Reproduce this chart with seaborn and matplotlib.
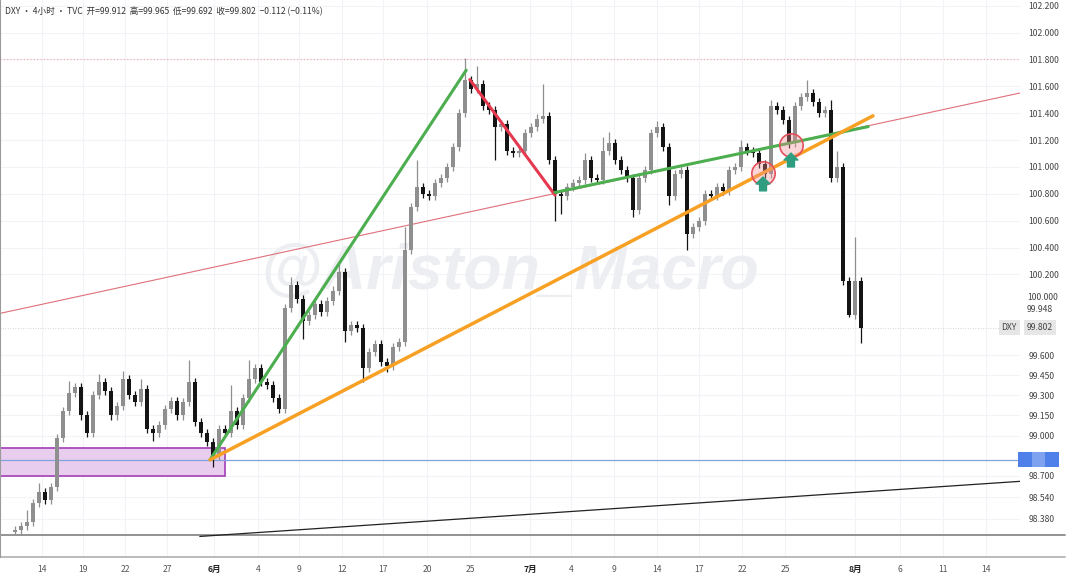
import numpy as np
import pandas as pd
import matplotlib
matplotlib.use("Agg")
import matplotlib.pyplot as plt
import matplotlib.transforms as mtransforms
from matplotlib.patches import Rectangle
import seaborn as sns

# DXY 4小时 K线
first_open = 98.28
closes = [
    98.30, 98.33, 98.36, 98.50, 98.58, 98.52, 98.62, 98.98, 99.18, 99.32,
    99.36, 99.15, 99.02, 99.30, 99.40, 99.33, 99.15, 99.22, 99.42, 99.30,
    99.25, 99.35, 99.05, 99.02, 99.08, 99.20, 99.26, 99.15, 99.25, 99.40,
    99.10, 99.02, 98.95, 98.85, 99.05, 99.02, 99.18, 99.08, 99.28, 99.42,
    99.50, 99.40, 99.38, 99.28, 99.20, 99.95, 100.12, 100.02, 99.85, 99.90,
    99.98, 99.92, 100.00, 100.08, 100.22, 99.78, 99.82, 99.80, 99.50, 99.62,
    99.68, 99.55, 99.52, 99.66, 99.70, 100.38, 100.70, 100.85, 100.80, 100.78,
    100.88, 100.92, 101.00, 101.15, 101.40, 101.65, 101.58, 101.62, 101.45, 101.42,
    101.30, 101.32, 101.12, 101.10, 101.12, 101.25, 101.30, 101.36, 101.38, 101.05,
    100.80, 100.78, 100.85, 100.88, 100.90, 101.05, 100.92, 100.90, 101.12, 101.18,
    101.05, 100.98, 100.92, 100.68, 100.92, 100.98, 101.25, 101.30, 101.15, 100.78,
    100.95, 100.98, 100.50, 100.55, 100.60, 100.80, 100.78, 100.85, 100.82, 100.98,
    101.00, 101.15, 101.12, 101.10, 101.02, 100.95, 101.45, 101.42, 101.35, 101.18,
    101.45, 101.52, 101.55, 101.48, 101.40, 101.42, 100.92, 101.00, 100.15, 99.90,
    100.15, 99.80,
]
# 上/下影线长度 (0.01)
wick_up = [
    3, 3, 9, 3, 7, 3, 3, 3, 3, 9,
    3, 3, 3, 3, 6, 3, 3, 3, 6, 3,
    3, 7, 3, 3, 3, 3, 3, 3, 3, 16,
    3, 3, 3, 3, 3, 3, 20, 3, 3, 14,
    3, 3, 3, 3, 3, 3, 6, 3, 3, 3,
    3, 3, 3, 3, 6, 3, 3, 3, 3, 3,
    3, 3, 3, 3, 3, 17, 3, 20, 3, 3,
    3, 3, 3, 3, 3, 16, 3, 13, 3, 3,
    3, 3, 3, 3, 3, 3, 3, 3, 24, 3,
    3, 3, 3, 3, 3, 5, 3, 3, 10, 8,
    3, 3, 3, 3, 3, 3, 3, 4, 3, 3,
    3, 3, 3, 3, 3, 3, 3, 3, 3, 3,
    3, 5, 3, 3, 3, 3, 5, 3, 3, 3,
    3, 3, 10, 3, 3, 3, 8, 12, 3, 3,
    33, 3,
]
wick_dn = [
    2, 3, 3, 3, 3, 3, 3, 3, 3, 3,
    3, 3, 3, 3, 3, 3, 3, 3, 3, 3,
    3, 3, 3, 6, 3, 3, 3, 3, 3, 3,
    3, 3, 3, 8, 3, 3, 3, 3, 3, 3,
    3, 3, 3, 3, 3, 3, 3, 3, 13, 3,
    3, 3, 3, 3, 3, 8, 3, 3, 10, 3,
    3, 3, 5, 3, 3, 3, 3, 3, 3, 3,
    3, 3, 3, 3, 3, 3, 3, 3, 3, 3,
    25, 3, 3, 3, 3, 3, 3, 3, 3, 3,
    20, 13, 3, 3, 3, 3, 3, 3, 3, 3,
    3, 3, 3, 5, 3, 3, 3, 3, 3, 6,
    3, 3, 12, 3, 3, 3, 3, 3, 3, 3,
    3, 3, 3, 3, 3, 3, 3, 3, 3, 4,
    3, 3, 3, 3, 3, 3, 3, 3, 3, 2,
    3, 11,
]

# 时间轴
tick_bars = [4.5, 11.33, 18.33, 25.33, 33.17, 40.5, 47.33, 54.5, 61.33, 68.67, 75.83,
             85.83, 92.67, 99.83, 107, 114, 121.17, 128.33, 140, 147.5, 154.67, 161.83]
tick_names = ['14', '19', '22', '27', '6月', '4', '9', '12', '17', '20', '25',
              '7月', '4', '9', '14', '17', '22', '25', '8月', '6', '11', '14']
price_ticks = [102.2, 102.0, 101.8, 101.6, 101.4, 101.2, 101.0, 100.8, 100.6, 100.4,
               100.2, 99.6, 99.45, 99.3, 99.15, 99.0, 98.7, 98.54, 98.38]

# 画线 (K线序号, 价格)
green_up_x, green_up_y = [32.5, 75.2], [98.82, 101.72]
red_down_x, red_down_y = [75.8, 90.0], [101.65, 100.79]
green_flat_x, green_flat_y = [90.0, 142.2], [100.81, 101.30]
orange_x, orange_y = [32.5, 143.0], [98.82, 101.38]
red_ray_x, red_ray_y = [-2.5, 167.5], [99.91, 101.55]
black_ray_x, black_ray_y = [30.8, 167.5], [98.25, 98.66]
blue_level = 98.82
red_dot_level = 101.8
gray_level = 98.26
box_x, box_w = -2.5, 37.5
box_lo, box_hi = 98.70, 98.91
circle_x = [124.67, 129.33]
circle_y = [100.955, 101.163]
arrow_y = [100.925, 101.103]
last_price = 99.802
prev_label = 99.948

df = pd.DataFrame({'close': closes, 'wick_up': wick_up, 'wick_dn': wick_dn})
df['bar'] = np.arange(len(df))
df['open'] = [first_open] + closes[:-1]
body_lo = df[['open', 'close']].min(axis=1)
body_hi = df[['open', 'close']].max(axis=1)
df['high'] = body_hi + df['wick_up'] / 100
df['low'] = body_lo - df['wick_dn'] / 100
df['up'] = df['close'] >= df['open']

sns.set_theme(style='white')
plt.rcParams['font.family'] = ['Noto Sans CJK SC', 'DejaVu Sans']

fig = plt.figure(figsize=(10.8, 5.83), dpi=100)
ax = fig.add_axes([0, 1 - 557 / 583, 1020 / 1080, 557 / 583])
ax.set_xlim(-2.5, 167.5)
ax.set_ylim(98.097, 102.242)
trans = mtransforms.blended_transform_factory(ax.transAxes, ax.transData)

# 网格
ax.set_axisbelow(True)
ax.grid(True, color='#f1f3f6', lw=0.8)

# 水印 (在K线下面)
ax.text(510 / 1020, (557 - 272) / 557, '@Ariston_Macro', transform=ax.transAxes,
        ha='center', va='center', fontsize=45, fontweight='bold', fontstyle='italic',
        family='Liberation Sans', color='#eceef1', zorder=0.8)

# 区域框
ax.add_patch(Rectangle((box_x, box_lo), box_w, box_hi - box_lo, facecolor='#e9cdef',
                       edgecolor='#a84bbd', lw=1.3, zorder=1))

# 水平线
ax.axhline(red_dot_level, color='#f0a3a8', lw=0.8, ls=(0, (1, 2)), zorder=1)
ax.axhline(blue_level, color='#7fa3db', lw=0.9, zorder=1)
ax.axhline(last_price, color='#c8c8c8', lw=0.6, ls=(0, (1, 2)), zorder=1)
ax.plot([0, 1065 / 1020], [gray_level, gray_level], transform=trans, color='#8a8a8a',
        lw=1.3, clip_on=False, zorder=1)

# 细趋势线
sns.lineplot(x=red_ray_x, y=red_ray_y, ax=ax, color='#e0707a', lw=0.8, sort=False,
             estimator=None, zorder=2)
sns.lineplot(x=black_ray_x, y=black_ray_y, ax=ax, color='#222222', lw=0.9, sort=False,
             estimator=None, zorder=2)

# K线
colors = np.where(df['up'], '#8f8f8f', '#141414')
ax.vlines(df['bar'], df['low'], df['high'], colors=colors, lw=0.9, zorder=3)
ax.bar(df['bar'], (body_hi - body_lo).clip(lower=0.008), bottom=body_lo, width=0.72,
       color=colors, lw=0, zorder=3)

# 粗趋势线
sns.lineplot(x=green_up_x, y=green_up_y, ax=ax, color='#4cae4f', lw=2.2, sort=False,
             estimator=None, zorder=4)
sns.lineplot(x=red_down_x, y=red_down_y, ax=ax, color='#e5394f', lw=2.2, sort=False,
             estimator=None, zorder=4)
sns.lineplot(x=green_flat_x, y=green_flat_y, ax=ax, color='#4cae4f', lw=2.2, sort=False,
             estimator=None, zorder=4)
sns.lineplot(x=orange_x, y=orange_y, ax=ax, color='#f7a023', lw=2.5, sort=False,
             estimator=None, zorder=4)

# 圆圈与箭头
ax.scatter(circle_x, circle_y, s=16.8 ** 2, facecolor=(0.96, 0.55, 0.58, 0.35),
           edgecolor='#e3505c', lw=1.2, zorder=5)
for cx, ay in zip(circle_x, arrow_y):
    ax.annotate('', xy=(cx, ay), xytext=(0, -10), textcoords='offset points',
                arrowprops=dict(arrowstyle='simple,head_length=0.5,head_width=1.0,tail_width=0.5',
                                mutation_scale=10, color='#2f9e80', shrinkA=0, shrinkB=0),
                zorder=6)

# 坐标轴
ax.set_xticks(tick_bars, tick_names)
ax.tick_params(axis='x', length=0, pad=6, labelsize=6.2, labelcolor='#555555')
for lab in ax.get_xticklabels():
    if '月' in lab.get_text():
        lab.set_fontweight('bold')
        lab.set_color('#222222')
ax.yaxis.tick_right()
ax.set_yticks(price_ticks, [f'{v:.3f}' for v in price_ticks])
ax.tick_params(axis='y', length=0, pad=6, labelsize=6.2, labelcolor='#444444')
for side in ['top', 'right']:
    ax.spines[side].set_visible(False)
ax.spines['left'].set_color('#9a9a9a')
ax.spines['left'].set_linewidth(0.8)
ax.spines['bottom'].set_visible(False)
ax.plot([0, 1065 / 1020], [0, 0], transform=ax.transAxes, color='#b5b5b5', lw=1.3,
        clip_on=False, zorder=1)

# 价格标签
ax.text(1027 / 1020, 100.03, '100.000', transform=trans, fontsize=6.2, color='#444444',
        va='center', ha='left')
ax.text(1027 / 1020, prev_label - 0.01, f'{prev_label:.3f}', transform=trans, fontsize=6.2,
        color='#444444', va='center', ha='left')
ax.text(1017 / 1020, last_price, 'DXY', transform=trans, fontsize=6.2, color='#444444',
        va='center', ha='right',
        bbox=dict(boxstyle='square,pad=0.35', facecolor='#e6e6e6', edgecolor='none'))
ax.text(1027 / 1020, last_price, f'{last_price:.3f}', transform=trans, fontsize=6.2,
        color='#444444', va='center', ha='left',
        bbox=dict(boxstyle='square,pad=0.35', facecolor='#e6e6e6', edgecolor='none'))
for k, col in enumerate(['#4f80ea', '#7ea2f0', '#4f80ea']):
    ax.add_patch(Rectangle((1018 / 1020 + k * 13.5 / 1020, blue_level - 0.055), 13.5 / 1020,
                           0.11, transform=trans, facecolor=col, edgecolor='none',
                           clip_on=False))

# 标题行
fig.text(5 / 1080, 1 - 11 / 583,
         'DXY · 4小时 · TVC  开=99.912  高=99.965  低=99.692  收=99.802  −0.112 (−0.11%)',
         fontsize=6.2, color='#333333', va='center', ha='left')

fig.savefig('out.png', dpi=100, facecolor='white')
